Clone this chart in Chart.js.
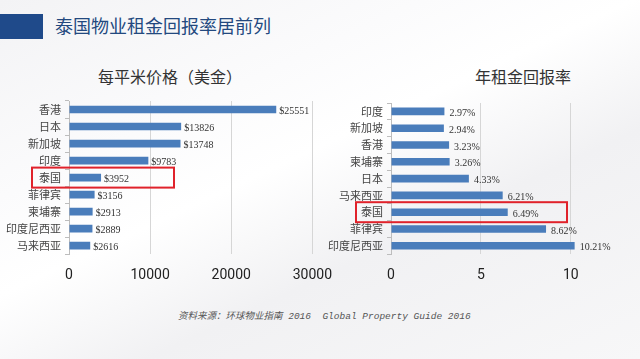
<!DOCTYPE html>
<html>
<head>
<meta charset="utf-8">
<script src="https://cdn.jsdelivr.net/npm/chart.js@4/dist/chart.umd.min.js"></script>
<style>
  html, body { margin: 0; padding: 0; }
  body {
    width: 640px; height: 359px; position: relative; overflow: hidden;
    background: linear-gradient(155deg, #f3f3f5 0%, #fbfbfc 30%, #ffffff 45%, #f1f1f3 65%, #f7f7f8 100%);
    font-family: "Noto Sans CJK SC", sans-serif;
  }
  #bar { position: absolute; left: 0; top: 14px; width: 43px; height: 25px; background: #1f4a8a; }
  #head { position: absolute; left: 55px; top: 12px; font-size: 18px; line-height: 26px; color: #23497f; }
  .ctitle { position: absolute; top: 64px; font-size: 16px; line-height: 24px; color: #333; transform: translateX(-50%); white-space: nowrap; }
  #src { position: absolute; left: 178px; top: 310px; font-size: 9.5px; line-height: 14px; color: #555;
         font-style: italic; font-family: "Liberation Mono", "Noto Sans CJK SC", monospace; white-space: pre; }
  canvas { position: absolute; }
  #priceChart { left: 0; top: 90px; }
  #yieldChart { left: 320px; top: 90px; }
</style>
</head>
<body>
<div id="bar"></div>
<div id="head">泰国物业租金回报率居前列</div>
<div class="ctitle" style="left:170px">每平米价格（美金）</div>
<div class="ctitle" style="left:523px">年租金回报率</div>
<canvas id="priceChart" width="345" height="207"></canvas>
<canvas id="yieldChart" width="334" height="207"></canvas>
<div id="src">资料来源：环球物业指南 2016  Global Property Guide 2016</div>
<script>
// price per square metre (USD)
const priceCountries = ['香港', '日本', '新加坡', '印度', '泰国', '菲律宾', '柬埔寨', '印度尼西亚', '马来西亚'];
const priceValues = [25551, 13826, 13748, 9783, 3952, 3156, 2913, 2889, 2616];
const priceTicks = [0, 10000, 20000, 30000];

// annual rental yield (%)
const yieldCountries = ['印度', '新加坡', '香港', '柬埔寨', '日本', '马来西亚', '泰国', '菲律宾', '印度尼西亚'];
const yieldValues = [2.97, 2.94, 3.23, 3.26, 4.33, 6.21, 6.49, 8.62, 10.21];
const yieldTicks = [0, 5, 10];

const highlight = '泰国';
const barColor = '#4a7dbb';

// value labels right of each bar
const valueLabels = {
    id: 'valueLabels',
    afterDatasetsDraw(chart, args, opts) {
        const ctx = chart.ctx;
        const meta = chart.getDatasetMeta(0);
        const values = chart.data.datasets[0].data;
        ctx.save();
        ctx.font = '10px "Liberation Serif", serif';
        ctx.fillStyle = '#333';
        ctx.textBaseline = 'middle';
        ctx.textAlign = 'left';
        meta.data.forEach((bar, i) => {
            ctx.fillText(opts.format(values[i]), bar.x + opts.gap, bar.y + 2);
        });
        ctx.restore();
    }
};

// red box around the highlighted row
const rowBox = {
    id: 'rowBox',
    afterDraw(chart, args, opts) {
        const idx = chart.data.labels.indexOf(opts.label);
        if (idx < 0) return;
        const y = chart.scales.y.getPixelForValue(idx);
        const left = chart.chartArea.left;
        const ctx = chart.ctx;
        ctx.save();
        ctx.strokeStyle = '#e0222b';
        ctx.lineWidth = 2;
        ctx.strokeRect(left + opts.from, y - 10, opts.to - opts.from, 20);
        ctx.restore();
    }
};

function makeChart(id, labels, values, ticks, max, axisWidth, padTop, fmt, gap, box) {
    const canvas = document.getElementById(id);
    return new Chart(canvas.getContext('2d'), {
        type: 'bar',
        data: {
            labels: labels,
            datasets: [{
                data: values,
                backgroundColor: barColor,
                barPercentage: 0.45,
                categoryPercentage: 1.0
            }]
        },
        options: {
            indexAxis: 'y',
            responsive: false,
            animation: false,
            layout: { padding: { top: padTop, right: 2, bottom: 0, left: 0 } },
            plugins: {
                legend: { display: false },
                tooltip: { enabled: false },
                valueLabels: { format: fmt, gap: gap },
                rowBox: box
            },
            scales: {
                x: {
                    min: 0,
                    max: max,
                    afterBuildTicks(scale) {
                        scale.ticks = ticks.map(v => ({ value: v })).concat(ticks[ticks.length - 1] < max ? [{ value: max }] : []);
                    },
                    ticks: {
                        padding: 13,
                        color: '#222',
                        font: { size: 14, family: 'Roboto, "Open Sans", sans-serif' },
                        callback: v => ticks.includes(v) ? String(v) : ''
                    },
                    grid: { color: '#d6d6d6', drawTicks: false },
                    border: { display: false }
                },
                y: {
                    afterFit(scale) { scale.width = axisWidth; },
                    ticks: {
                        autoSkip: false,
                        padding: 4,
                        color: '#444',
                        font: { size: 11, family: '"Noto Sans CJK SC", sans-serif' }
                    },
                    grid: { drawOnChartArea: false, offset: true, tickLength: 4, color: '#bdbdbd' },
                    border: { color: '#bdbdbd' }
                }
            }
        },
        plugins: [valueLabels, rowBox]
    });
}

makeChart('priceChart', priceCountries, priceValues, priceTicks, 30000, 69, 11,
    v => '$' + v, 3, { label: highlight, from: -37, to: 105 });
makeChart('yieldChart', yieldCountries, yieldValues, yieldTicks, 13.9, 71, 13,
    v => v.toFixed(2) + '%', 5, { label: highlight, from: -35, to: 176 });
</script>
</body>
</html>
